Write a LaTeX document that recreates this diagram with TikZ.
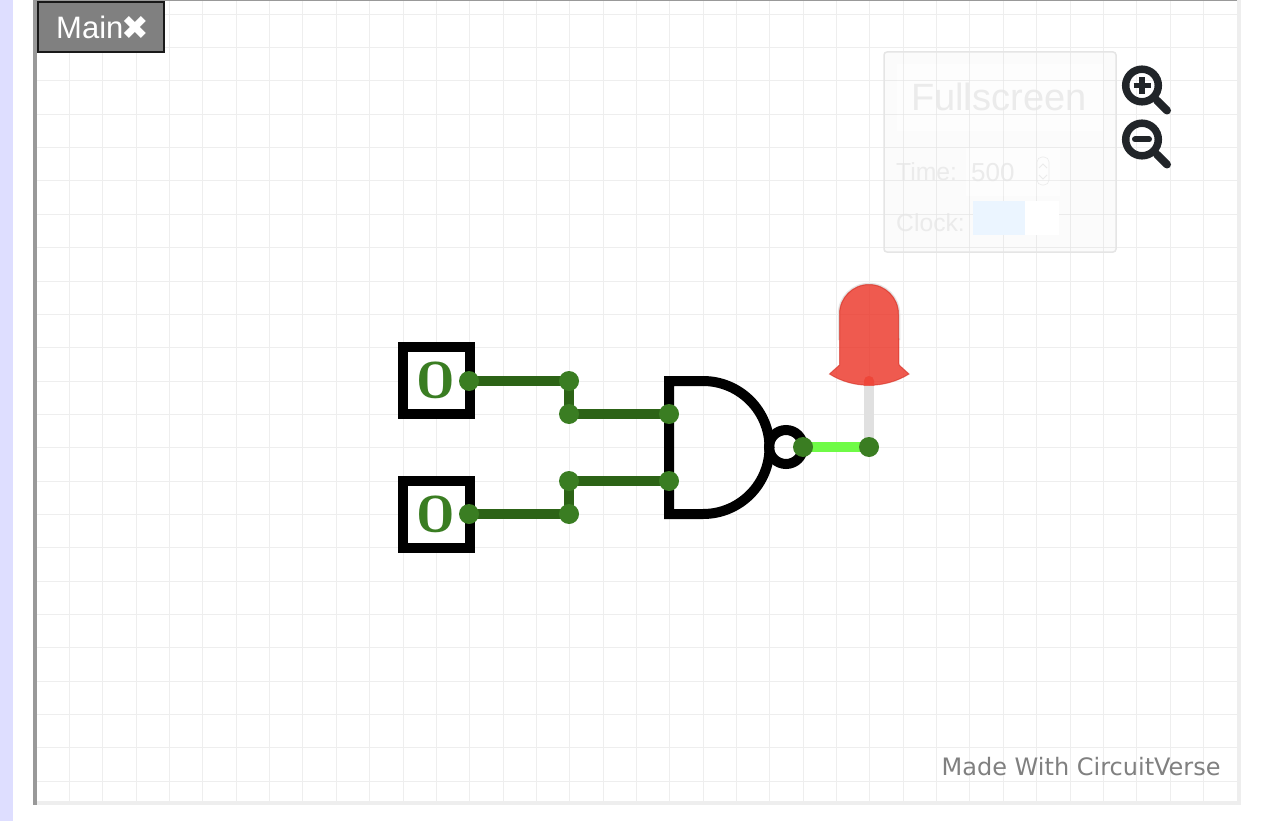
\documentclass[tikz,border=0pt]{standalone}
\usepackage{fontspec}
\usepackage{amsmath}
\setmainfont{Liberation Sans}
\newfontfamily\dejavu{DejaVu Sans}
\definecolor{gridc}{HTML}{EEEEEE}
\definecolor{wireoff}{HTML}{2C6316}
\definecolor{wireon}{HTML}{6FFB46}
\definecolor{pinc}{HTML}{3A7D22}
\definecolor{iconc}{HTML}{212529}
\definecolor{panelc}{HTML}{EBEBEB}
\definecolor{ledc}{HTML}{EC3123}
\pgfdeclarelayer{front}
\pgfsetlayers{main,front}
\tikzset{
  pinnode/.style={circle,fill=pinc,minimum size=20pt,inner sep=0pt},
  wirenode/.style={line width=10pt,color=wireoff},
  inputbox/.style={draw=black,line width=10pt,fill=white,minimum size=67pt,inner sep=0pt},
  inputval/.style={inner sep=0pt,text=pinc,xscale=2.7,yscale=3.1,font=\fontsize{24.88}{24.88}\usefont{OML}{cmm}{b}{it}},
  paneltext/.style={anchor=base west,inner sep=0pt,text=panelc},
}
\begin{document}
\begin{tikzpicture}[x=1pt,y=1pt]
\useasboundingbox (0,0) rectangle (1266,-821);
\fill[white] (0,0) rectangle (1266,-821);
% page and frame
\fill[blue!13] (0,0) rectangle (13,-821);
\foreach \i in {0,...,34} \draw[gridc,line width=1pt] ({69.5+33.35*\i},0)--({69.5+33.35*\i},-801);
\foreach \j in {0,...,23} \draw[gridc,line width=1pt] (36,{-14.2-33.35*\j})--(1237,{-14.2-33.35*\j});
\fill[gridc] (33,-801) rectangle (1241,-805);
\fill[gridc] (1237,0) rectangle (1241,-805);
\fill[black!40] (33,0) rectangle (37,-805);
\fill[black!40] (33,0) rectangle (1237,-1);
% tab
\node[draw=black!90,line width=2pt,fill=black!50,minimum width=126pt,minimum height=50pt,inner sep=0pt] (tab) at (101,-27) {};
\node[anchor=base west,inner sep=0pt,text=white,font=\fontsize{31}{31}\selectfont] (tabname) at (56,-38.5) {Main};
\node[anchor=center,inner sep=0pt,text=white,font=\dejavu\fontsize{33}{33}\selectfont] (tabclose) at (135.5,-28) {✖};
% control panel
\fill[black!2,fill opacity=.7,rounded corners=3pt] (884,-52) rectangle (1116,-252);
\fill[white,opacity=.5] (897,-64) rectangle (1103,-131);
\node[paneltext,font=\fontsize{38}{38}\selectfont] (fullscreen) at (911,-111) {Fullscreen};
\node[paneltext,font=\fontsize{24.7}{24.7}\selectfont] (timelabel) at (896,-181) {Time:};
\fill[white,opacity=.7] (966,-148) rectangle (1060,-196);
\node[paneltext,font=\fontsize{26}{26}\selectfont] (timevalue) at (971,-182) {500};
\draw[panelc,line width=.6pt,rounded corners=5pt] (1037,-157) rectangle (1049,-185);
\draw[panelc,line width=1pt] (1039,-168)--(1043,-164)--(1047,-168);
\draw[panelc,line width=1pt] (1039,-175)--(1043,-179)--(1047,-175);
\node[paneltext,font=\fontsize{24.7}{24.7}\selectfont] (clocklabel) at (896,-231) {Clock:};
\begin{scope}
\clip (884,-52) rectangle (1116,-252);
\foreach \i in {0,...,34} \draw[black!10,line width=1pt,opacity=.6] ({69.5+33.35*\i},0)--({69.5+33.35*\i},-801);
\foreach \j in {0,...,23} \draw[black!10,line width=1pt,opacity=.6] (36,{-14.2-33.35*\j})--(1237,{-14.2-33.35*\j});
\end{scope}
\draw[black!10,line width=1.5pt,rounded corners=3pt] (884,-52) rectangle (1116,-252);
\fill[blue!50!cyan!8] (973,-201) rectangle (1025,-235);
\fill[white] (1025,-201) rectangle (1059,-235);
% zoom icons
\begin{scope}[shift={(1142,-85.5)}]
\draw[iconc,line width=7.5pt] (0,0) circle [radius=16.3pt];
\draw[iconc,line width=8pt,line cap=round] (15,-15)--(25,-25);
\draw[iconc,line width=5.5pt] (-8.5,0)--(8.5,0);
\draw[iconc,line width=5.5pt] (0,-8.5)--(0,8.5);
\end{scope}
\begin{scope}[shift={(1142,-139.5)}]
\draw[iconc,line width=7.5pt] (0,0) circle [radius=16.3pt];
\draw[iconc,line width=8pt,line cap=round] (15,-15)--(25,-25);
\draw[iconc,line width=6pt,line cap=round] (-7,0)--(7,0);
\end{scope}
% pins, on top of everything
\begin{pgfonlayer}{front}
\node[pinnode] (inA) at (469,-381) {};
\node[pinnode] (inB) at (469,-514) {};
\node[pinnode] (jA) at (569,-381) {};
\node[pinnode] (jB) at (569,-414) {};
\node[pinnode] (jC) at (569,-481) {};
\node[pinnode] (jD) at (569,-514) {};
\node[pinnode] (gateA) at (669,-414) {};
\node[pinnode] (gateB) at (669,-481) {};
\node[pinnode] (gateOut) at (803,-447) {};
\node[pinnode] (ledPin) at (869,-447) {};
\end{pgfonlayer}
% inputs
\node[inputbox] (boxA) at (436.5,-380.5) {};
\node[inputbox] (boxB) at (436.5,-514.5) {};
\node[inputval] (valA) at (435.5,-380) {0};
\node[inputval] (valB) at (435.5,-514) {0};
% wires
\draw[wirenode] (inA.center)--(jA.center);
\draw[wirenode] (jA.center)--(jB.center);
\draw[wirenode] (jB.center)--(gateA.center);
\draw[wirenode] (inB.center)--(jD.center);
\draw[wirenode] (jD.center)--(jC.center);
\draw[wirenode] (jC.center)--(gateB.center);
% nand gate
\draw[black,line width=10pt,miter limit=10] (703,-381)--(669,-381)--(669,-514)--(703,-514) arc (-90:90:66.5pt);
\draw[black,line width=10pt] (786,-447) circle [radius=17pt];
\draw[wirenode,color=wireon] (gateOut.center)--(ledPin.center);
% led
\coordinate (ledTop) at (869,-381);
\draw[black!12,line width=10pt,line cap=round] (ledTop)--(ledPin.center);
\draw[black!10,line width=2.5pt] (839,-340)--(839,-314) arc (180:0:30pt)--(899,-340);
\draw[ledc!90!black,line width=1pt,fill=ledc,fill opacity=.8,draw opacity=.6]
  (839.5,-365)--(839.5,-314) arc (180:0:29.5pt)--(899,-365)--(909,-374)
  .. controls (885,-389) and (853,-389) .. (829.5,-374)--cycle;
\fill[ledc!90!white] (864,-385.5)--(864,-381) arc (180:0:5pt)--(874,-385.5)--cycle;
% footer
\node[anchor=base west,inner sep=0pt,text=black!50,font=\dejavu\fontsize{24}{24}\selectfont] (madewith) at (941.5,-775) {Made With CircuitVerse};
\end{tikzpicture}
\end{document}
